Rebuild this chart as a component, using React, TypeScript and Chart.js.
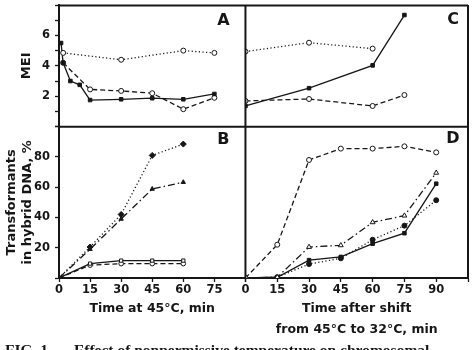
import { useEffect, useRef } from 'react';
import { Chart, registerables } from 'chart.js';

Chart.register(...registerables);

const INK = '#161616';
const FONT = 'DejaVu Sans';

// ---------- Panel A (MEI vs time at 45°C) ----------
const timeA_dotted = [2, 30, 60, 75];
const meiA_dotted = [4.85, 4.4, 5.0, 4.85];
const timeA_solid = [1, 2, 5.5, 10, 15, 30, 45, 60, 75];
const meiA_solid = [5.5, 4.2, 3.0, 2.75, 1.75, 1.8, 1.87, 1.8, 2.15];
const timeA_dashed = [2, 15, 30, 45, 60, 75];
const meiA_dashed = [4.2, 2.45, 2.35, 2.2, 1.15, 1.9];

// ---------- Panel C (MEI vs time after shift) ----------
const timeC_dotted = [0, 30, 60];
const meiC_dotted = [4.94, 5.52, 5.13];
const timeC = [0, 30, 60, 75];
const meiC_solid = [1.36, 2.53, 4.03, 7.34];
const meiC_dashed = [1.69, 1.82, 1.36, 2.08];

// ---------- Panel B (% transformants vs time at 45°C) ----------
const timeB = [0, 15, 30, 45, 60];
const trB_dotted = [0, 20.5, 42, 81, 88.5];
const trB_dashdot = [0, 19, 39, 58.8, 63.3];
const trB_solid = [0, 9.5, 11.5, 11.5, 11.5];
const trB_dashed = [0, 8.5, 9.5, 9.5, 9.5];

// ---------- Panel D (% transformants vs time after shift) ----------
const timeD = [0, 15, 30, 45, 60, 75, 90];
const trD_dashed = [0, 22, 78, 85.5, 85.5, 87, 83];
const trD_dashdot = [0, 0.5, 20.5, 21.6, 36.8, 41.2, 69.5];
const trD_solid = [0, 0.5, 11.8, 13.9, 22.7, 29.6, 62.3];
const trD_dotted = [0, 0.5, 9.2, 13, 25.3, 34.6, 51.4];

// ---------- axis settings ----------
const xLeftMax = 90;
const xRightMax = 105;
const xStep = 15;
const meiMax = 8;
const meiLabels = [2, 4, 6];
const trMax = 100;
const trLabels = [20, 40, 60, 80];
const panelLetters = ['A', 'B', 'C', 'D'];

const DOTTED = [1.2, 2.4];
const DASHED = [5, 3];
const DASHDOT = [7, 3, 1.5, 3];

function pts(xs: number[], ys: number[]) {
  return xs.map((x, i) => ({ x, y: ys[i] }));
}

function series(
  xs: number[],
  ys: number[],
  xAxisID: string,
  yAxisID: string,
  dash: number[],
  pointStyle: string,
  filled: boolean,
  radius = 2.5
) {
  return {
    data: pts(xs, ys),
    xAxisID,
    yAxisID,
    borderColor: INK,
    borderWidth: 1.3,
    borderDash: dash,
    pointStyle,
    pointRadius: radius,
    pointBorderWidth: 1,
    pointBorderColor: INK,
    pointBackgroundColor: filled ? INK : '#ffffff',
    showLine: true,
    tension: 0,
    fill: false,
  };
}

const tickFont = { family: FONT, size: 11.5, weight: 'bold' as const };

function xScale(max: number, weight: number, text: any, padBottom: number, lineHeight: any) {
  return {
    type: 'linear' as const,
    position: 'bottom' as const,
    stack: 'xs',
    stackWeight: weight,
    min: 0,
    max,
    ticks: {
      stepSize: xStep,
      autoSkip: false,
      maxRotation: 0,
      padding: 1,
      color: INK,
      font: tickFont,
      callback: (v: any) => (v >= max ? '' : String(v)),
    },
    grid: { drawOnChartArea: false, drawTicks: true, tickLength: 4, tickWidth: 1.3, tickColor: INK },
    border: { display: true, color: INK, width: 2 },
    title: {
      display: true,
      text,
      color: INK,
      font: { family: FONT, size: 12.5, weight: 'bold' as const, lineHeight },
      padding: { top: 0, bottom: padBottom },
    },
    afterFit: (s: any) => {
      s.height = 72;
      s.paddingLeft = 0;
      s.paddingRight = 0;
    },
  };
}

function yScale(max: number, step: number, labels: number[], weight: number, text: any, padTop: number, lineHeight: any) {
  return {
    type: 'linear' as const,
    position: 'left' as const,
    stack: 'ys',
    stackWeight: weight,
    min: 0,
    max,
    ticks: {
      stepSize: step,
      autoSkip: false,
      padding: 5,
      color: INK,
      font: tickFont,
      callback: (v: any) => (labels.includes(v) ? String(v) : ''),
    },
    grid: { drawOnChartArea: false, drawTicks: true, tickLength: 4, tickWidth: 1.3, tickColor: INK },
    border: { display: true, color: INK, width: 2 },
    title: {
      display: true,
      text,
      color: INK,
      font: { family: FONT, size: 13, weight: 'bold' as const, lineHeight },
      padding: { top: padTop, bottom: 0 },
    },
    afterFit: (s: any) => {
      s.width = 59;
      s.paddingTop = 0;
      s.paddingBottom = 0;
    },
  };
}

const framePlugin = {
  id: 'panelFrames',
  afterDraw(chart: any) {
    const { ctx, chartArea, scales } = chart;
    const xL = scales.xL;
    const yA = scales.yA;
    const yB = scales.yB;
    ctx.save();
    ctx.strokeStyle = INK;
    ctx.lineWidth = 2;
    ctx.beginPath();
    ctx.moveTo(chartArea.left, chartArea.top + 0.5);
    ctx.lineTo(chartArea.right, chartArea.top + 0.5);
    ctx.moveTo(chartArea.right, chartArea.top);
    ctx.lineTo(chartArea.right, chartArea.bottom);
    ctx.moveTo(chartArea.left, yA.bottom);
    ctx.lineTo(chartArea.right, yA.bottom);
    ctx.moveTo(xL.right, chartArea.top);
    ctx.lineTo(xL.right, chartArea.bottom);
    ctx.stroke();

    ctx.fillStyle = INK;
    ctx.font = `bold 16px "${FONT}"`;
    ctx.textAlign = 'center';
    ctx.textBaseline = 'middle';
    ctx.fillText(panelLetters[0], xL.right - 22, yA.top + 16);
    ctx.fillText(panelLetters[1], xL.right - 22, yB.top + 13);
    ctx.fillText(panelLetters[2], chartArea.right - 15, yA.top + 15);
    ctx.fillText(panelLetters[3], chartArea.right - 15, yB.top + 12);
    ctx.restore();
  },
};

export default function App() {
  const ref = useRef<HTMLCanvasElement | null>(null);

  useEffect(() => {
    if (!ref.current) return;
    const chart = new Chart(ref.current, {
      type: 'line',
      data: {
        datasets: [
          // A
          series(timeA_dotted, meiA_dotted, 'xL', 'yA', DOTTED, 'circle', false),
          series(timeA_solid, meiA_solid, 'xL', 'yA', [], 'rect', true),
          series(timeA_dashed, meiA_dashed, 'xL', 'yA', DASHED, 'circle', false),
          // C
          series(timeC_dotted, meiC_dotted, 'xR', 'yA', DOTTED, 'circle', false),
          series(timeC, meiC_solid, 'xR', 'yA', [], 'rect', true),
          series(timeC, meiC_dashed, 'xR', 'yA', DASHED, 'circle', false),
          // B
          series(timeB, trB_dotted, 'xL', 'yB', DOTTED, 'rectRot', true, 3),
          series(timeB, trB_dashdot, 'xL', 'yB', DASHDOT, 'triangle', true, 2.5),
          series(timeB, trB_solid, 'xL', 'yB', [], 'rect', false, 2.3),
          series(timeB, trB_dashed, 'xL', 'yB', DASHED, 'circle', false, 2.3),
          // D
          series(timeD, trD_dashed, 'xR', 'yB', DASHED, 'circle', false),
          series(timeD, trD_dashdot, 'xR', 'yB', DASHDOT, 'triangle', false, 2.8),
          series(timeD, trD_solid, 'xR', 'yB', [], 'rect', true),
          series(timeD, trD_dotted, 'xR', 'yB', DOTTED, 'circle', true),
        ],
      },
      options: {
        responsive: false,
        animation: false,
        layout: { padding: { top: 2, right: 6, left: 0, bottom: 0 } },
        plugins: {
          legend: { display: false },
          tooltip: { enabled: false },
          title: { display: false },
        },
        scales: {
          xL: xScale(xLeftMax, 186, 'Time at 45°C, min', 33.5, 1.2),
          xR: xScale(xRightMax, 222, ['Time after shift', 'from 45°C to 32°C, min'], 9.5, '21px'),
          yB: yScale(trMax, 20, trLabels, 153, ['Transformants', 'in hybrid DNA, %'], 4, '16px'),
          yA: yScale(meiMax, 1, meiLabels, 123, 'MEI', 19, 1.2),
        },
      } as any,
      plugins: [framePlugin],
    } as any);
    return () => chart.destroy();
  }, []);

  return (
    <div
      style={{
        position: 'fixed',
        left: 0,
        top: 0,
        width: 474,
        height: 350,
        overflow: 'hidden',
        background: '#ffffff',
      }}
    >
      <canvas ref={ref} width={474} height={350} style={{ display: 'block', position: 'absolute', left: 0, top: 0 }} />
      <div
        style={{
          position: 'absolute',
          left: 5,
          top: 342,
          whiteSpace: 'nowrap',
          fontFamily: '"Liberation Serif", serif',
          fontWeight: 'bold',
          fontSize: 15.5,
          lineHeight: '15px',
          color: INK,
        }}
      >
        <span>FIG. 1.</span>
        <span style={{ marginLeft: 22 }}>Effect of nonpermissive temperature on chromosomal</span>
      </div>
    </div>
  );
}
